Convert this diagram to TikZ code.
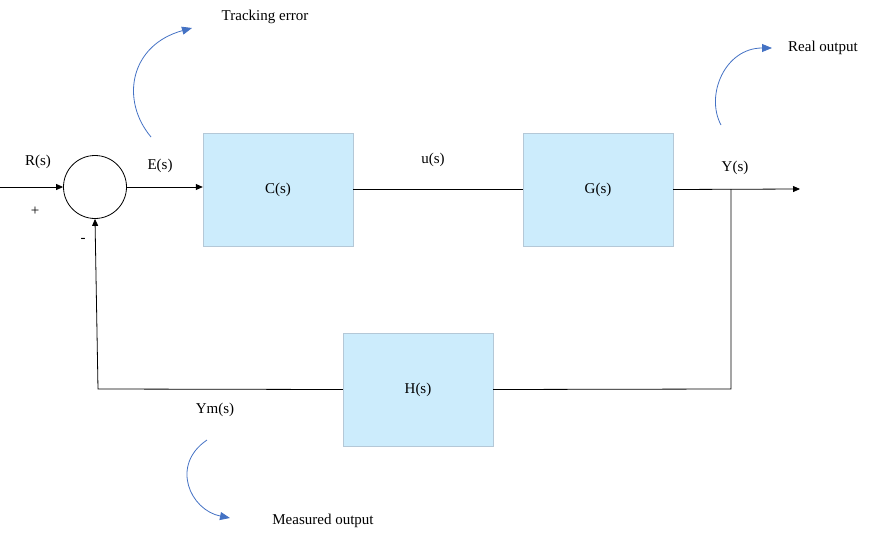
\documentclass[tikz,border=0pt]{standalone}
\usepackage{fontspec}
\setmainfont{Liberation Serif}
\usetikzlibrary{arrows.meta}
\definecolor{boxfill}{RGB}{204,236,252}
\definecolor{boxline}{RGB}{180,200,215}
\definecolor{curv}{RGB}{68,114,196}
\tikzset{
 blk/.style={draw=boxline,fill=boxfill,minimum width=150pt,minimum height=113pt,inner sep=0pt,font=\fontsize{15}{17}\selectfont},
 lbl/.style={font=\fontsize{15}{17}\selectfont,inner sep=0pt},
 sig/.style={-{Triangle[length=7pt,width=6pt]},line width=0.8pt},
 note/.style={curv,-{Triangle[length=10pt,width=8pt]},line width=0.8pt}
}
\begin{document}
\begin{tikzpicture}[x=1pt,y=-1pt]
\useasboundingbox (0,0) rectangle (878,541);
\node[draw,circle,minimum size=63pt,inner sep=0pt,line width=0.8pt] (sum) at (95,187) {};
\node[blk] (C) at (278,189.5) {C(s)};
\node[blk] (G) at (598,189.5) {G(s)};
\node[blk] (H) at (418,389.5) {H(s)};
\coordinate (in) at (0,187);
\coordinate (out) at (800,189);
\coordinate (tap) at (731,189);
\coordinate (fb1) at (731,389);
\coordinate (fb2) at (98,389);
\draw[sig] (in) -- (sum.west);
\draw[sig] (sum.east) -- (C.west |- sum.east);
\draw[line width=0.8pt] (C.east) -- (G.west);
\draw[sig] (G.east) -- (out);
\draw[line width=0.8pt] (tap) -- (fb1) -- (H.east);
\draw[sig] (H.west) -- (fb2) -- (sum.south);
\node[lbl] (r) at (38,162) {R(s)};
\node[lbl] (p) at (35,211) {+};
\node[lbl] (m) at (83,240) {-};
\node[lbl] (e) at (160,166) {E(s)};
\node[lbl] (u) at (433,160) {u(s)};
\node[lbl] (y) at (735,168) {Y(s)};
\node[lbl] (ym) at (215,410) {Ym(s)};
\node[lbl] (te) at (265,17) {Tracking error};
\node[lbl] (ro) at (823,48) {Real output};
\node[lbl] (mo) at (323,521) {Measured output};
\coordinate (a1) at (151,137);
\coordinate (a2) at (192,28);
\draw[note] (a1) .. controls (120,100) and (130,45) .. (a2);
\coordinate (b1) at (721,125);
\coordinate (b2) at (772,48);
\draw[note] (b1) .. controls (705,95) and (725,48) .. (b2);
\coordinate (c1) at (207,440);
\coordinate (c2) at (230,518);
\draw[note] (c1) .. controls (170,465) and (190,510) .. (c2);
\end{tikzpicture}
\end{document}
